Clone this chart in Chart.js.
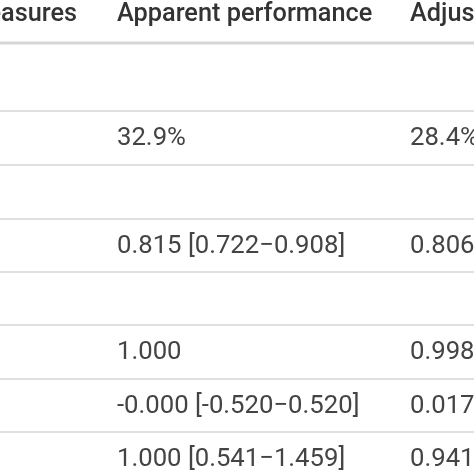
<!DOCTYPE html>
<html><head><meta charset="utf-8">
<script src="https://cdn.jsdelivr.net/npm/chart.js@4"></script>
<style>html,body{margin:0;padding:0;background:#fff;overflow:hidden}#wrap{width:474px;height:474px;position:relative}</style>
</head><body><div id="wrap"><canvas id="c" width="474" height="474"></canvas></div>
<script>
const headers = ["Measures", "Apparent performance", "Adjusted performance"];
const rowLabels = ["", "", "", "", "", "", ""];
const apparent = ["", "32.9%", "", "0.815 [0.722\u22120.908]", "", "1.000", "-0.000 [-0.520\u22120.520]", "1.000 [0.541\u22121.459]"];
const adjusted = ["", "28.4%", "", "0.806", "", "0.998", "0.017", "0.941"];

const lineYs = [43, 111, 165, 219, 272, 325, 379, 432];
const colX = [77, 117, 410];

const tablePlugin = {
  id: 'table',
  afterDraw(chart) {
    const ctx = chart.ctx;
    ctx.save();
    ctx.fillStyle = '#fff';
    ctx.fillRect(0, 0, 474, 474);
    lineYs.forEach((y, i) => {
      ctx.fillStyle = i === 0 ? '#d6d6d6' : '#e0e0e0';
      ctx.fillRect(0, y - (i === 0 ? 1.5 : 1), 474, i === 0 ? 3 : 2);
    });
    ctx.textBaseline = 'middle';
    ctx.font = '500 25.3px Roboto';
    ctx.fillStyle = '#333';
    ctx.textAlign = 'right';
    ctx.fillText(headers[0], colX[0], 15);
    ctx.textAlign = 'left';
    ctx.fillText(headers[1], colX[1], 15);
    ctx.fillText(headers[2], colX[2], 15);
    ctx.font = '400 25.7px Roboto';
    ctx.fillStyle = '#444';
    for (let r = 0; r < apparent.length; r++) {
      const y = (lineYs[r] + (lineYs[r + 1] !== undefined ? lineYs[r + 1] : 486)) / 2 + 1;
      if (apparent[r]) ctx.fillText(apparent[r], colX[1], y);
      if (adjusted[r]) ctx.fillText(adjusted[r], colX[2], y);
    }
    ctx.restore();
  }
};

new Chart(document.getElementById('c'), {
  type: 'bar',
  data: { labels: rowLabels, datasets: [] },
  options: {
    responsive: false, animation: false,
    plugins: { legend: { display: false }, tooltip: { enabled: false } },
    scales: { x: { display: false }, y: { display: false } }
  },
  plugins: [tablePlugin]
});
</script></body></html>
